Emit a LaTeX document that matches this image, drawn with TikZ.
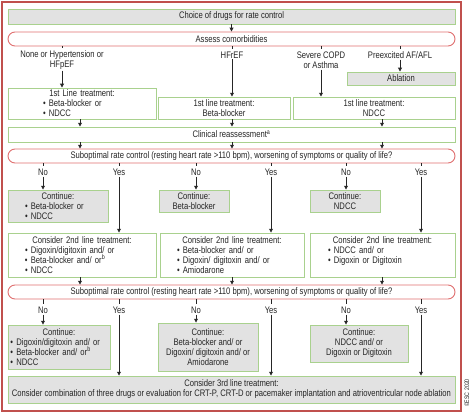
\documentclass[tikz,border=0pt]{standalone}
\usepackage{fontspec}
\setmainfont{Liberation Sans}[FakeStretch=0.805]
\usetikzlibrary{arrows.meta}
\definecolor{gborder}{HTML}{A9D18E}
\definecolor{gfill}{HTML}{E2E2E2}
\definecolor{rborder}{HTML}{E07070}
\definecolor{framec}{HTML}{C0504D}
\definecolor{txt}{HTML}{262626}
\newcommand{\supsm}[1]{\smash{\textsuperscript{#1}}}
\begin{document}
\begin{tikzpicture}[x=1pt,y=-1pt, font=\fontsize{9.5}{10}\selectfont, text=txt,
 gbox/.style={draw=gborder, line width=0.9pt, fill=gfill, inner sep=0pt},
 wbox/.style={draw=gborder, line width=0.9pt, fill=white, inner sep=0pt},
 rbox/.style={draw=rborder, line width=0.9pt, fill=white, rounded corners=7pt, inner sep=0pt},
 arr/.style={draw=black!85, line width=0.8pt, -{Triangle[length=3.8pt,width=3.8pt]}},
 tick/.style={draw=black!85, line width=0.8pt, shorten >=1.5pt},
 lbl/.style={inner sep=1pt, align=center},
]
\useasboundingbox (0,0) rectangle (474,412);
\fill[white] (0,0) rectangle (474,412);
\draw[framec, line width=1.5pt] (2,2) rectangle (461,411);
\node[rotate=90, font=\fontsize{6.5}{7}\selectfont] (esc) at (467,393) {©ESC 2020};

\coordinate (cA) at (80,0);
\coordinate (cB) at (232,0);
\coordinate (cC) at (382,0);

\node[gbox, minimum width=447, minimum height=15] (choice) at (231.5,16.5) {Choice of drugs for rate control};
\node[rbox, minimum width=447, minimum height=14] (assess) at (231.5,39) {Assess comorbidities};
\node[lbl] (none) at (62,60) {None or Hypertension or\\HFpEF};
\node[lbl] (hfref) at (232,55) {HFrEF};
\node[lbl] (copd) at (321,60) {Severe COPD\\or Asthma};
\node[lbl] (preex) at (400,55) {Preexcited AF/AFL};
\node[gbox, minimum width=108, minimum height=13] (abl) at (401,78.5) {Ablation};

\node[wbox, minimum width=148, minimum height=31, align=left, text width=78] (L1a) at (82,103.5) {\hfill 1st Line treatment:\hfill\null\\• Beta-blocker or\\• NDCC};
\node[wbox, minimum width=132, minimum height=22, align=center] (L1b) at (224,108) {1st line treatment:\\Beta-blocker};
\node[wbox, minimum width=162, minimum height=22, align=center] (L1c) at (374,108) {1st line treatment:\\NDCC};
\node[wbox, minimum width=447, minimum height=15] (clin) at (231.5,134.5) {Clinical reassessment\supsm{a}};
\node[rbox, minimum width=447, minimum height=14] (sub1) at (231.5,156) {Suboptimal rate control (resting heart rate >110 bpm), worsening of symptoms or quality of life?};

\node[lbl] (no1) at (43,172) {No};
\node[lbl] (yes1) at (119,172) {Yes};
\node[lbl] (no2) at (196,172) {No};
\node[lbl] (yes2) at (271,172) {Yes};
\node[lbl] (no3) at (346,172) {No};
\node[lbl] (yes3) at (421,172) {Yes};

\node[gbox, minimum width=100, minimum height=32, align=left, text width=66] (C1a) at (58,206) {\hfill Continue:\hfill\null\\• Beta-blocker or\\• NDCC};
\node[gbox, minimum width=70, minimum height=22, align=center] (C1b) at (194,201) {Continue:\\Beta-blocker};
\node[gbox, minimum width=70, minimum height=22, align=center] (C1c) at (345,201) {Continue:\\NDCC};

\node[wbox, minimum width=148, minimum height=44, align=left, text width=114] (S2a) at (82,255) {\hfill Consider 2nd line treatment:\hfill\null\\• Digoxin/digitoxin and/ or\\• Beta-blocker and/ or\supsm{b}\\• NDCC};
\node[wbox, minimum width=144, minimum height=44, align=left, text width=110] (S2b) at (232,255) {\hfill Consider 2nd line treatment:\hfill\null\\• Beta-blocker and/ or\\• Digoxin/ digitoxin and/ or\\• Amiodarone};
\node[wbox, minimum width=145, minimum height=44, align=left, text width=109] (S2c) at (382.5,255) {\hfill Consider 2nd line treatment:\hfill\null\\• NDCC and/ or\\• Digoxin or Digitoxin\\\mbox{}};

\node[rbox, minimum width=447, minimum height=14] (sub2) at (231.5,292) {Suboptimal rate control (resting heart rate >110 bpm), worsening of symptoms or quality of life?};

\node[lbl] (no4) at (43,310) {No};
\node[lbl] (yes4) at (119,310) {Yes};
\node[lbl] (no5) at (196,310) {No};
\node[lbl] (yes5) at (271,310) {Yes};
\node[lbl] (no6) at (346,310) {No};
\node[lbl] (yes6) at (421,310) {Yes};

\node[gbox, minimum width=102, minimum height=44, align=left, text width=97] (C2a) at (59,347) {\hfill Continue:\hfill\null\\• Digoxin/digitoxin and/ or\\• Beta-blocker and/ or\supsm{b}\\• NDCC};
\node[gbox, minimum width=100, minimum height=48, align=center] (C2b) at (208,347) {Continue:\\Beta-blocker and/ or\\Digoxin/ digitoxin and/ or\\Amiodarone};
\node[gbox, minimum width=98, minimum height=37, align=center] (C2c) at (359,343.5) {Continue:\\NDCC and/ or\\Digoxin or Digitoxin};
\node[gbox, minimum width=447, minimum height=27, align=center] (final) at (231.5,389.5) {Consider 3rd line treatment:\\Consider combination of three drugs or evaluation for CRT-P, CRT-D or pacemaker implantation and atrioventricular node ablation};

% connectors
\draw[arr] (choice) -- (assess);
\foreach \n in {none,hfref,copd,preex}
  \draw[tick] (assess.south -| \n) -- (\n.north);
\draw[arr] (none.south) -- (none.south |- L1a.north);
\draw[arr] (hfref.south) -- (hfref.south |- L1b.north);
\draw[arr] (copd.south) -- (copd.south |- L1c.north);
\draw[arr] (preex.south) -- (preex.south |- abl.north);
\draw[arr] (L1a.south -| cA) -- (clin.north -| cA);
\draw[arr] (L1b.south -| cB) -- (clin.north -| cB);
\draw[arr] (L1c.south -| cC) -- (clin.north -| cC);
\foreach \c in {cA,cB,cC}
  \draw[arr] (clin.south -| \c) -- (sub1.north -| \c);
\foreach \n in {no1,yes1,no2,yes2,no3,yes3}
  \draw[tick] (sub1.south -| \n) -- (\n.north);
\draw[arr] (no1.south) -- (no1.south |- C1a.north);
\draw[arr] (yes1.south) -- (yes1.south |- S2a.north);
\draw[arr] (no2.south) -- (no2.south |- C1b.north);
\draw[arr] (yes2.south) -- (yes2.south |- S2b.north);
\draw[arr] (no3.south) -- (no3.south |- C1c.north);
\draw[arr] (yes3.south) -- (yes3.south |- S2c.north);
\draw[arr] (S2a.south -| cA) -- (sub2.north -| cA);
\draw[arr] (S2b.south -| cB) -- (sub2.north -| cB);
\draw[arr] (S2c.south -| cC) -- (sub2.north -| cC);
\foreach \n in {no4,yes4,no5,yes5,no6,yes6}
  \draw[tick] (sub2.south -| \n) -- (\n.north);
\draw[arr] (no4.south) -- (no4.south |- C2a.north);
\draw[arr] (no5.south) -- (no5.south |- C2b.north);
\draw[arr] (no6.south) -- (no6.south |- C2c.north);
\foreach \n in {yes4,yes5,yes6}
  \draw[arr] (\n.south) -- (\n.south |- final.north);
\end{tikzpicture}
\end{document}
